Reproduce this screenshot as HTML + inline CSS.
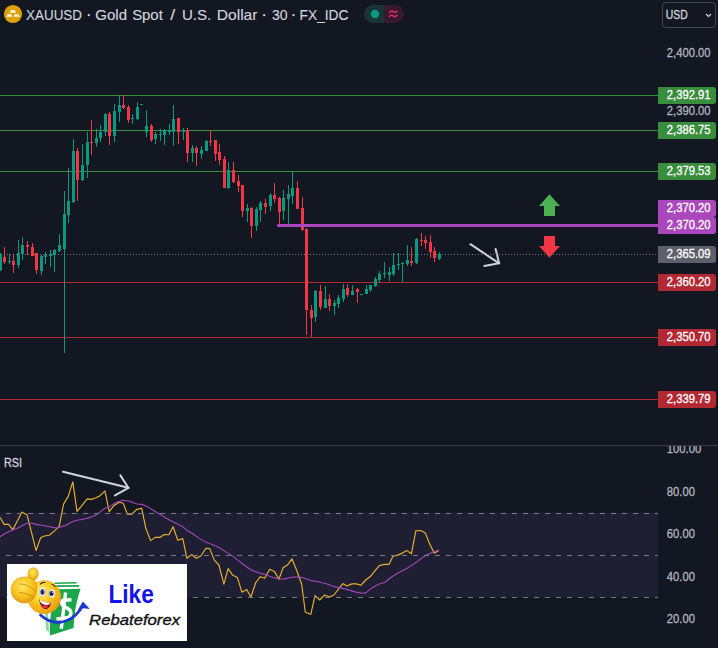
<!DOCTYPE html>
<html><head><meta charset="utf-8"><style>
*{margin:0;padding:0;box-sizing:border-box}
html,body{width:718px;height:648px;overflow:hidden;background:#131722;font-family:"Liberation Sans",sans-serif}
#c{position:absolute;left:0;top:0}
</style></head><body>
<svg id="c" width="718" height="648" viewBox="0 0 718 648">
<line x1="0" y1="254.5" x2="658" y2="254.5" stroke="#787b86" stroke-width="1" stroke-dasharray="1 2" stroke-dashoffset="-1"/>
<line x1="0" y1="95.5" x2="658" y2="95.5" stroke="#388e3c" stroke-width="1"/>
<line x1="0" y1="130.5" x2="658" y2="130.5" stroke="#388e3c" stroke-width="1"/>
<line x1="0" y1="171.5" x2="658" y2="171.5" stroke="#388e3c" stroke-width="1"/>
<line x1="0" y1="282.5" x2="658" y2="282.5" stroke="#b22833" stroke-width="1"/>
<line x1="0" y1="337.5" x2="658" y2="337.5" stroke="#b22833" stroke-width="1"/>
<line x1="0" y1="399.5" x2="658" y2="399.5" stroke="#b22833" stroke-width="1"/>
<rect x="0" y="253" width="1" height="18" fill="#089981"/>
<rect x="-1" y="254" width="3" height="16" fill="#089981"/>
<rect x="4" y="247" width="1" height="17" fill="#f23645"/>
<rect x="3" y="257" width="3" height="5" fill="#f23645"/>
<rect x="9" y="254" width="1" height="10" fill="#089981"/>
<rect x="8" y="261" width="3" height="1" fill="#089981"/>
<rect x="13" y="255" width="1" height="18" fill="#f23645"/>
<rect x="12" y="261" width="3" height="4" fill="#f23645"/>
<rect x="18" y="240" width="1" height="28" fill="#089981"/>
<rect x="17" y="253" width="3" height="12" fill="#089981"/>
<rect x="22" y="237" width="1" height="23" fill="#089981"/>
<rect x="21" y="245" width="3" height="9" fill="#089981"/>
<rect x="27" y="241" width="1" height="14" fill="#f23645"/>
<rect x="26" y="245" width="3" height="2" fill="#f23645"/>
<rect x="32" y="243" width="1" height="13" fill="#f23645"/>
<rect x="31" y="247" width="3" height="9" fill="#f23645"/>
<rect x="36" y="253" width="1" height="21" fill="#f23645"/>
<rect x="35" y="253" width="3" height="17" fill="#f23645"/>
<rect x="41" y="255" width="1" height="20" fill="#089981"/>
<rect x="40" y="256" width="3" height="15" fill="#089981"/>
<rect x="45" y="252" width="1" height="12" fill="#089981"/>
<rect x="44" y="255" width="3" height="2" fill="#089981"/>
<rect x="50" y="250" width="1" height="17" fill="#089981"/>
<rect x="49" y="254" width="3" height="2" fill="#089981"/>
<rect x="54" y="249" width="1" height="23" fill="#089981"/>
<rect x="53" y="250" width="3" height="5" fill="#089981"/>
<rect x="59" y="234" width="1" height="18" fill="#089981"/>
<rect x="58" y="245" width="3" height="6" fill="#089981"/>
<rect x="64" y="191" width="1" height="162" fill="#089981"/>
<rect x="63" y="214" width="3" height="35" fill="#089981"/>
<rect x="68" y="168" width="1" height="55" fill="#089981"/>
<rect x="67" y="201" width="3" height="14" fill="#089981"/>
<rect x="73" y="139" width="1" height="64" fill="#089981"/>
<rect x="72" y="151" width="3" height="51" fill="#089981"/>
<rect x="77" y="148" width="1" height="53" fill="#f23645"/>
<rect x="76" y="151" width="3" height="29" fill="#f23645"/>
<rect x="82" y="144" width="1" height="37" fill="#089981"/>
<rect x="81" y="165" width="3" height="15" fill="#089981"/>
<rect x="87" y="132" width="1" height="46" fill="#089981"/>
<rect x="86" y="142" width="3" height="23" fill="#089981"/>
<rect x="91" y="120" width="1" height="35" fill="#f23645"/>
<rect x="90" y="142" width="3" height="1" fill="#f23645"/>
<rect x="96" y="129" width="1" height="18" fill="#089981"/>
<rect x="95" y="138" width="3" height="5" fill="#089981"/>
<rect x="100" y="125" width="1" height="17" fill="#089981"/>
<rect x="99" y="132" width="3" height="6" fill="#089981"/>
<rect x="105" y="113" width="1" height="23" fill="#089981"/>
<rect x="104" y="114" width="3" height="18" fill="#089981"/>
<rect x="109" y="112" width="1" height="33" fill="#f23645"/>
<rect x="108" y="114" width="3" height="22" fill="#f23645"/>
<rect x="114" y="104" width="1" height="38" fill="#089981"/>
<rect x="113" y="111" width="3" height="25" fill="#089981"/>
<rect x="119" y="96" width="1" height="26" fill="#089981"/>
<rect x="118" y="105" width="3" height="7" fill="#089981"/>
<rect x="123" y="95" width="1" height="14" fill="#f23645"/>
<rect x="122" y="105" width="3" height="3" fill="#f23645"/>
<rect x="128" y="105" width="1" height="18" fill="#f23645"/>
<rect x="127" y="107" width="3" height="13" fill="#f23645"/>
<rect x="132" y="114" width="1" height="10" fill="#089981"/>
<rect x="131" y="118" width="3" height="1" fill="#089981"/>
<rect x="137" y="102" width="1" height="18" fill="#089981"/>
<rect x="136" y="107" width="3" height="12" fill="#089981"/>
<rect x="141" y="104" width="1" height="1" fill="#089981"/>
<rect x="140" y="104" width="3" height="1" fill="#089981"/>
<rect x="146" y="110" width="1" height="27" fill="#089981"/>
<rect x="145" y="126" width="3" height="6" fill="#089981"/>
<rect x="151" y="124" width="1" height="18" fill="#f23645"/>
<rect x="150" y="126" width="3" height="14" fill="#f23645"/>
<rect x="155" y="132" width="1" height="12" fill="#089981"/>
<rect x="154" y="134" width="3" height="5" fill="#089981"/>
<rect x="160" y="129" width="1" height="12" fill="#089981"/>
<rect x="159" y="134" width="3" height="1" fill="#089981"/>
<rect x="164" y="129" width="1" height="16" fill="#089981"/>
<rect x="163" y="130" width="3" height="5" fill="#089981"/>
<rect x="169" y="124" width="1" height="11" fill="#089981"/>
<rect x="168" y="130" width="3" height="2" fill="#089981"/>
<rect x="173" y="105" width="1" height="41" fill="#089981"/>
<rect x="172" y="119" width="3" height="13" fill="#089981"/>
<rect x="178" y="118" width="1" height="26" fill="#f23645"/>
<rect x="177" y="118" width="3" height="14" fill="#f23645"/>
<rect x="183" y="128" width="1" height="12" fill="#089981"/>
<rect x="182" y="130" width="3" height="2" fill="#089981"/>
<rect x="187" y="128" width="1" height="34" fill="#f23645"/>
<rect x="186" y="130" width="3" height="23" fill="#f23645"/>
<rect x="192" y="145" width="1" height="17" fill="#089981"/>
<rect x="191" y="148" width="3" height="5" fill="#089981"/>
<rect x="196" y="146" width="1" height="20" fill="#f23645"/>
<rect x="195" y="148" width="3" height="5" fill="#f23645"/>
<rect x="201" y="146" width="1" height="13" fill="#089981"/>
<rect x="200" y="150" width="3" height="4" fill="#089981"/>
<rect x="206" y="140" width="1" height="11" fill="#089981"/>
<rect x="205" y="141" width="3" height="10" fill="#089981"/>
<rect x="210" y="130" width="1" height="16" fill="#f23645"/>
<rect x="209" y="141" width="3" height="1" fill="#f23645"/>
<rect x="215" y="140" width="1" height="21" fill="#f23645"/>
<rect x="214" y="140" width="3" height="14" fill="#f23645"/>
<rect x="219" y="144" width="1" height="21" fill="#f23645"/>
<rect x="218" y="152" width="3" height="8" fill="#f23645"/>
<rect x="224" y="156" width="1" height="32" fill="#f23645"/>
<rect x="223" y="159" width="3" height="29" fill="#f23645"/>
<rect x="228" y="162" width="1" height="27" fill="#089981"/>
<rect x="227" y="170" width="3" height="18" fill="#089981"/>
<rect x="233" y="162" width="1" height="21" fill="#f23645"/>
<rect x="232" y="170" width="3" height="12" fill="#f23645"/>
<rect x="238" y="175" width="1" height="17" fill="#f23645"/>
<rect x="237" y="181" width="3" height="5" fill="#f23645"/>
<rect x="242" y="185" width="1" height="32" fill="#f23645"/>
<rect x="241" y="185" width="3" height="26" fill="#f23645"/>
<rect x="247" y="204" width="1" height="18" fill="#089981"/>
<rect x="246" y="208" width="3" height="3" fill="#089981"/>
<rect x="251" y="207" width="1" height="31" fill="#f23645"/>
<rect x="250" y="208" width="3" height="18" fill="#f23645"/>
<rect x="256" y="207" width="1" height="24" fill="#089981"/>
<rect x="255" y="209" width="3" height="17" fill="#089981"/>
<rect x="260" y="201" width="1" height="21" fill="#089981"/>
<rect x="259" y="203" width="3" height="7" fill="#089981"/>
<rect x="265" y="199" width="1" height="15" fill="#f23645"/>
<rect x="264" y="203" width="3" height="4" fill="#f23645"/>
<rect x="270" y="193" width="1" height="18" fill="#089981"/>
<rect x="269" y="195" width="3" height="11" fill="#089981"/>
<rect x="274" y="183" width="1" height="20" fill="#f23645"/>
<rect x="273" y="195" width="3" height="4" fill="#f23645"/>
<rect x="279" y="197" width="1" height="27" fill="#f23645"/>
<rect x="278" y="198" width="3" height="14" fill="#f23645"/>
<rect x="283" y="190" width="1" height="30" fill="#089981"/>
<rect x="282" y="198" width="3" height="13" fill="#089981"/>
<rect x="288" y="185" width="1" height="40" fill="#089981"/>
<rect x="287" y="194" width="3" height="5" fill="#089981"/>
<rect x="292" y="171" width="1" height="33" fill="#089981"/>
<rect x="291" y="188" width="3" height="8" fill="#089981"/>
<rect x="297" y="181" width="1" height="28" fill="#f23645"/>
<rect x="296" y="188" width="3" height="21" fill="#f23645"/>
<rect x="302" y="197" width="1" height="34" fill="#f23645"/>
<rect x="301" y="208" width="3" height="22" fill="#f23645"/>
<rect x="306" y="228" width="1" height="107" fill="#f23645"/>
<rect x="305" y="229" width="3" height="81" fill="#f23645"/>
<rect x="311" y="305" width="1" height="32" fill="#f23645"/>
<rect x="310" y="310" width="3" height="8" fill="#f23645"/>
<rect x="315" y="290" width="1" height="32" fill="#089981"/>
<rect x="314" y="291" width="3" height="26" fill="#089981"/>
<rect x="320" y="285" width="1" height="25" fill="#f23645"/>
<rect x="319" y="291" width="3" height="16" fill="#f23645"/>
<rect x="325" y="286" width="1" height="22" fill="#089981"/>
<rect x="324" y="299" width="3" height="9" fill="#089981"/>
<rect x="329" y="294" width="1" height="17" fill="#f23645"/>
<rect x="328" y="299" width="3" height="7" fill="#f23645"/>
<rect x="334" y="300" width="1" height="15" fill="#089981"/>
<rect x="333" y="303" width="3" height="3" fill="#089981"/>
<rect x="338" y="295" width="1" height="13" fill="#089981"/>
<rect x="337" y="298" width="3" height="6" fill="#089981"/>
<rect x="343" y="284" width="1" height="18" fill="#089981"/>
<rect x="342" y="289" width="3" height="10" fill="#089981"/>
<rect x="347" y="284" width="1" height="13" fill="#f23645"/>
<rect x="346" y="288" width="3" height="7" fill="#f23645"/>
<rect x="352" y="285" width="1" height="10" fill="#089981"/>
<rect x="351" y="291" width="3" height="4" fill="#089981"/>
<rect x="357" y="288" width="1" height="15" fill="#f23645"/>
<rect x="356" y="289" width="3" height="3" fill="#f23645"/>
<rect x="361" y="294" width="1" height="1" fill="#089981"/>
<rect x="360" y="294" width="3" height="1" fill="#089981"/>
<rect x="366" y="285" width="1" height="9" fill="#089981"/>
<rect x="365" y="289" width="3" height="5" fill="#089981"/>
<rect x="370" y="285" width="1" height="7" fill="#089981"/>
<rect x="369" y="285" width="3" height="5" fill="#089981"/>
<rect x="375" y="277" width="1" height="10" fill="#089981"/>
<rect x="374" y="279" width="3" height="7" fill="#089981"/>
<rect x="379" y="271" width="1" height="11" fill="#089981"/>
<rect x="378" y="274" width="3" height="6" fill="#089981"/>
<rect x="384" y="262" width="1" height="16" fill="#089981"/>
<rect x="383" y="273" width="3" height="1" fill="#089981"/>
<rect x="389" y="267" width="1" height="14" fill="#089981"/>
<rect x="388" y="272" width="3" height="3" fill="#089981"/>
<rect x="393" y="253" width="1" height="23" fill="#089981"/>
<rect x="392" y="265" width="3" height="9" fill="#089981"/>
<rect x="398" y="253" width="1" height="17" fill="#089981"/>
<rect x="397" y="264" width="3" height="1" fill="#089981"/>
<rect x="402" y="262" width="1" height="20" fill="#089981"/>
<rect x="401" y="263" width="3" height="1" fill="#089981"/>
<rect x="407" y="245" width="1" height="21" fill="#089981"/>
<rect x="406" y="260" width="3" height="4" fill="#089981"/>
<rect x="411" y="247" width="1" height="19" fill="#f23645"/>
<rect x="410" y="261" width="3" height="2" fill="#f23645"/>
<rect x="416" y="238" width="1" height="26" fill="#089981"/>
<rect x="415" y="239" width="3" height="24" fill="#089981"/>
<rect x="421" y="233" width="1" height="13" fill="#f23645"/>
<rect x="420" y="240" width="3" height="1" fill="#f23645"/>
<rect x="425" y="236" width="1" height="13" fill="#f23645"/>
<rect x="424" y="240" width="3" height="3" fill="#f23645"/>
<rect x="430" y="235" width="1" height="23" fill="#f23645"/>
<rect x="429" y="242" width="3" height="10" fill="#f23645"/>
<rect x="434" y="247" width="1" height="15" fill="#f23645"/>
<rect x="433" y="251" width="3" height="7" fill="#f23645"/>
<rect x="439" y="252" width="1" height="8" fill="#089981"/>
<rect x="438" y="254" width="3" height="5" fill="#089981"/>
<line x1="278.5" y1="225.5" x2="658" y2="225.5" stroke="#ab47bc" stroke-width="3" stroke-linecap="round"/>
<polygon points="549.4,194.2 560,205.9 555,205.9 555,216 544,216 544,205.9 539,205.9" fill="#4caf50"/>
<polygon points="544,236 555,236 555,246 560,246 549.4,257.7 539,246 544,246" fill="#f23645"/>
<g stroke="#d1d4dc" stroke-width="2" stroke-linecap="round" fill="none"><line x1="470.4" y1="244.2" x2="499.1" y2="263.3"/><polyline points="495.6,248.9 499.1,263.3 484.3,266.1"/></g>
<line x1="465" y1="254.5" x2="658" y2="254.5" stroke="#787b86" stroke-width="1" stroke-dasharray="1 2" stroke-dashoffset="-1"/>
<rect x="0" y="445" width="718" height="1" fill="#363a45"/>
<rect x="0" y="512.5" width="658" height="85" fill="#1e1f33"/>
<polyline points="0.0,517.2 4.1,524.4 8.6,524.4 12.8,529.7 21.9,512.1 27.1,515.1 36.1,550.6 40.6,537.8 44.4,536.0 49.3,535.3 54.2,531.1 59.2,526.3 63.6,504.0 68.2,496.4 72.8,481.8 77.0,511.4 82.1,505.4 87.2,498.9 91.4,499.4 96.0,497.8 100.1,495.7 105.0,490.8 109.2,511.7 114.0,505.4 119.4,502.2 123.2,503.3 127.4,514.2 131.9,514.2 136.4,509.6 141.7,508.2 145.8,528.3 150.6,540.6 155.1,537.4 159.7,537.4 164.2,534.6 168.9,534.7 173.1,526.8 177.8,540.3 182.8,538.6 186.9,558.3 191.7,554.6 196.3,558.3 200.8,556.0 206.0,548.3 209.7,548.6 214.3,560.1 218.9,565.0 223.9,584.2 228.1,568.6 232.8,575.3 237.4,577.6 241.9,592.2 246.7,589.4 250.8,597.1 255.8,582.5 260.3,576.7 264.7,578.3 269.7,569.3 274.4,571.4 278.9,579.2 283.1,567.8 287.8,564.7 292.0,558.8 297.0,571.2 301.7,584.2 305.3,612.2 310.8,614.3 315.0,595.6 319.7,600.0 324.7,594.9 329.4,597.0 333.9,595.0 338.3,589.4 342.8,583.6 346.9,586.0 351.9,583.9 356.4,583.9 360.8,585.3 365.8,580.0 370.6,576.3 374.7,571.1 379.3,565.6 384.2,564.4 388.9,564.4 393.1,556.1 397.8,555.1 402.4,553.1 406.9,550.6 411.4,553.8 415.8,530.8 420.8,530.6 425.3,532.9 429.7,544.0 434.3,553.3 438.9,550.3" fill="none" stroke="#eab22a" stroke-width="1.15" stroke-linejoin="round"/>
<polyline points="0.0,536.7 5.6,533.2 12.5,530.0 18.0,528.0 22.9,525.3 27.0,523.2 32.0,523.2 36.1,524.4 41.7,525.3 47.2,526.3 52.8,527.4 57.0,528.0 60.6,527.0 66.8,524.9 71.7,522.1 77.2,520.3 82.8,519.3 89.7,517.6 96.0,515.1 100.8,511.4 105.0,508.2 109.9,506.4 116.3,502.2 123.2,500.3 129.4,501.3 137.1,504.0 142.6,504.4 147.5,506.8 154.4,511.0 161.4,515.1 165.0,517.5 169.9,520.3 176.1,523.3 182.4,526.4 187.2,530.6 192.8,533.8 198.3,537.9 205.3,542.1 212.2,544.4 217.8,546.9 220.0,548.1 226.9,552.6 233.2,556.4 239.4,561.4 245.0,565.8 251.3,570.0 257.5,572.5 264.4,574.4 272.8,577.2 279.0,579.0 284.7,578.9 291.7,577.2 297.9,576.8 302.8,577.8 311.1,580.6 319.4,582.0 327.8,584.2 335.0,586.9 338.3,587.4 346.7,589.4 355.0,591.9 361.3,593.3 365.8,592.9 371.7,588.1 378.6,584.2 385.0,582.2 391.9,576.7 398.9,572.5 405.8,569.0 411.4,565.6 418.3,560.7 425.3,555.6 432.2,552.4 438.9,550.0" fill="none" stroke="#a548bb" stroke-width="1.1" stroke-linejoin="round"/>
<line x1="0" y1="513.5" x2="658" y2="513.5" stroke="#787b86" stroke-width="1" stroke-dasharray="5 6" stroke-dashoffset="-6"/>
<line x1="0" y1="555.5" x2="658" y2="555.5" stroke="#787b86" stroke-width="1" stroke-dasharray="5 6" stroke-dashoffset="-6"/>
<line x1="0" y1="597.5" x2="658" y2="597.5" stroke="#787b86" stroke-width="1" stroke-dasharray="5 6" stroke-dashoffset="-6"/>
<g stroke="#d1d4dc" stroke-width="2" stroke-linecap="round" fill="none"><line x1="63" y1="471.8" x2="128.4" y2="487.8"/><polyline points="120.4,475.4 128.4,487.8 115,495.4"/></g>
<text transform="translate(26.10,19.8) scale(0.893,1)" font-family="Liberation Sans" font-size="15" fill="#d1d4dc" stroke="#d1d4dc" stroke-width="0.15">XAUUSD</text>
<text transform="translate(95.30,19.8) scale(1.002,1)" font-family="Liberation Sans" font-size="15" fill="#d1d4dc" stroke="#d1d4dc" stroke-width="0.15">Gold</text>
<text transform="translate(132.20,19.8) scale(0.991,1)" font-family="Liberation Sans" font-size="15" fill="#d1d4dc" stroke="#d1d4dc" stroke-width="0.15">Spot</text>
<text transform="translate(170.20,19.8) scale(1.180,1)" font-family="Liberation Sans" font-size="15" fill="#d1d4dc" stroke="#d1d4dc" stroke-width="0.15">/</text>
<text transform="translate(182.00,19.8) scale(1.004,1)" font-family="Liberation Sans" font-size="15" fill="#d1d4dc" stroke="#d1d4dc" stroke-width="0.15">U.S.</text>
<text transform="translate(216.76,19.8) scale(1.040,1)" font-family="Liberation Sans" font-size="15" fill="#d1d4dc" stroke="#d1d4dc" stroke-width="0.15">Dollar</text>
<text transform="translate(272.00,19.8) scale(0.936,1)" font-family="Liberation Sans" font-size="15" fill="#d1d4dc" stroke="#d1d4dc" stroke-width="0.15">30</text>
<text transform="translate(299.58,19.8) scale(0.918,1)" font-family="Liberation Sans" font-size="15" fill="#d1d4dc" stroke="#d1d4dc" stroke-width="0.15">FX_IDC</text>
<circle cx="88.80" cy="15.2" r="1.15" fill="#d1d4dc"/>
<circle cx="264.20" cy="15.2" r="1.15" fill="#d1d4dc"/>
<circle cx="293.50" cy="15.2" r="1.15" fill="#d1d4dc"/>
<circle cx="13" cy="14" r="9.1" fill="#e0a100"/>
<polygon points="10.8,10.2 14.8,10.2 16,12.8 10,12.8" fill="#fff"/>
<polygon points="7.8,14.2 11,14.2 12.2,16.8 6.2,16.8" fill="#fff"/>
<polygon points="14.8,14.2 18,14.2 19.9,16.8 13.8,16.8" fill="#fff"/>
<path d="M373,5 H384 V23 H373 A9,9 0 0 1 373,5 Z" fill="#1a3433"/>
<path d="M384,5 H395 A9,9 0 0 1 395,23 H384 Z" fill="#351a2d"/>
<circle cx="375" cy="14" r="4.2" fill="#089981"/>
<g fill="none" stroke="#ee2a66" stroke-width="1.5" stroke-linecap="round"><path d="M389.5,12.3 C391,10.5 392.3,10.8 393.2,11.6 C394.2,12.4 395.5,12.8 396.8,11"/><path d="M389.5,16.5 C391,14.7 392.3,15 393.2,15.8 C394.2,16.6 395.5,17 396.8,15.2"/></g>

<rect x="7" y="564" width="180" height="77" fill="#ffffff"/>
<defs>
<radialGradient id="gf" cx="0.38" cy="0.32" r="0.75">
<stop offset="0" stop-color="#fff07a"/><stop offset="0.5" stop-color="#fcc81e"/><stop offset="1" stop-color="#e8960c"/>
</radialGradient>
<radialGradient id="gh" cx="0.45" cy="0.35" r="0.7">
<stop offset="0" stop-color="#ffe860"/><stop offset="0.6" stop-color="#f8c01a"/><stop offset="1" stop-color="#e0920c"/>
</radialGradient>
</defs>
<!-- bills -->
<g fill="#1aa64a">
<path d="M54.5,582.4 L76.5,582.0 L76.6,583.6 L54.8,584.0 Z"/>
<path d="M55.5,585.3 L79.2,585.0 L79.2,586.8 L55.6,587.0 Z"/>
<path d="M58.8,589.3 L80.6,588.8 C78.5,595 76,604 75,612.4 C74.2,618 73.8,623 73.6,628.1 L50,635.6 C49,620 52,600 58.8,589.3 Z"/>
</g>
<g fill="#8fd6a4"><path d="M45,612 L48,611 L49,632 L46,630 Z"/></g>
<!-- dollar sign -->
<g fill="none" stroke="#ffffff" stroke-width="3.4" stroke-linecap="butt" stroke-linejoin="round">
<path d="M71.5,599.8 L63.5,600.2 C61,600.5 60.8,604 63,605.5 L68.5,609 C72.5,611.5 71,617 67,617.8 L56.5,619"/>
<line x1="65.6" y1="592.5" x2="61.3" y2="628.8"/>
</g>
<!-- blue arrow -->
<path d="M40.5,615 C46,620 53,623 60,622.3 C68,621.5 75,617 80.5,609.5" fill="none" stroke="#1c36d2" stroke-width="2.8" stroke-linecap="round"/>
<path d="M82.9,601.6 L89.8,609 L84,608.2 L77.8,610 Z" fill="#1c36d2"/>
<!-- face -->
<circle cx="44.2" cy="597.2" r="16.6" fill="url(#gf)" stroke="#e59a1a" stroke-width="0.5"/>
<!-- eyes -->
<ellipse cx="42.6" cy="591.8" rx="3.2" ry="5" fill="#ffffff" stroke="#d9a030" stroke-width="0.4"/>
<ellipse cx="52" cy="593.6" rx="3.2" ry="4.3" fill="#ffffff" stroke="#d9a030" stroke-width="0.4"/>
<ellipse cx="42.5" cy="591.9" rx="2.2" ry="3" fill="#2d4fb0"/>
<ellipse cx="51.5" cy="593.5" rx="2.2" ry="2.8" fill="#2d4fb0"/>
<ellipse cx="42.4" cy="592.1" rx="1" ry="1.5" fill="#0a0a20"/>
<ellipse cx="51.5" cy="593.7" rx="1" ry="1.4" fill="#0a0a20"/>
<circle cx="43.3" cy="590.8" r="0.5" fill="#fff"/>
<circle cx="52.3" cy="592.4" r="0.5" fill="#fff"/>
<!-- brows -->
<path d="M40,584.3 Q42.5,581.6 45.3,582.6" fill="none" stroke="#3a2408" stroke-width="1.1"/>
<path d="M51.7,584.3 Q54,584.6 55.3,587" fill="none" stroke="#3a2408" stroke-width="1.1"/>
<!-- mouth -->
<path d="M39.1,599.4 Q45,602.8 51.2,602.4 Q50,608.8 45.2,609.2 Q40.5,608 39.1,599.4 Z" fill="#7a0c18"/>
<path d="M39.6,599.8 Q45,603 51,602.6 Q50.5,604.6 47.5,605 Q42.5,605 40.3,602 Z" fill="#ffffff"/>
<path d="M41.3,606 Q44.5,604.6 48.3,606 Q46.8,609 44.6,608.8 Q42.3,608.2 41.3,606 Z" fill="#e0303e"/>
<path d="M53.5,601 Q55.2,601.5 56.3,600.5" fill="none" stroke="#d88a20" stroke-width="0.6"/>
<!-- hand -->
<ellipse cx="33.1" cy="574" rx="5.2" ry="6.3" fill="url(#gh)" stroke="#d08a10" stroke-width="0.4" transform="rotate(8 33.1 574)"/>
<path d="M13,583 C16,577.5 24,576 30,577.5 C35,579 37.5,584 36.8,590.5 C36,597 32,602.5 25,603 C17.5,603.3 11.2,597.5 11.2,590.5 C11.2,587.5 11.8,585 13,583 Z" fill="url(#gh)" stroke="#d08a10" stroke-width="0.5"/>
<g fill="none" stroke="#b27408" stroke-width="0.7" opacity="0.9">
<path d="M19.7,584 C25,584 31,586.5 35.2,591.2"/>
<path d="M19,592.5 C24.5,592.5 30,594.5 33.9,597.7"/>
</g>
<!-- text -->
<text transform="translate(108.4,603) scale(0.908,1)" font-family="Liberation Sans" font-weight="bold" font-size="25" fill="#1212ee">Like</text>
<text transform="translate(89.1,624.8) scale(1.114,1)" font-family="Liberation Sans" font-style="italic" font-size="15" fill="#111111" stroke="#111111" stroke-width="0.35">Rebateforex</text>

<text transform="translate(666.8,57) scale(0.9,1)" font-family="Liberation Sans" font-size="12.5" fill="#b2b5be" stroke="#b2b5be" stroke-width="0.3" >2,400.00</text>
<text transform="translate(666.8,115.2) scale(0.9,1)" font-family="Liberation Sans" font-size="12.5" fill="#b2b5be" stroke="#b2b5be" stroke-width="0.3" >2,390.00</text>
<path d="M658,87.0 H713 A3,3 0 0 1 716,90.0 V101.0 A3,3 0 0 1 713,104.0 H658 Z" fill="#388e3c"/>
<text transform="translate(666.8,98.7) scale(0.9,1)" font-family="Liberation Sans" font-size="12.5" fill="#ffffff" stroke="#ffffff" stroke-width="0.3" >2,392.91</text>
<path d="M658,122.0 H713 A3,3 0 0 1 716,125.0 V136.0 A3,3 0 0 1 713,139.0 H658 Z" fill="#388e3c"/>
<text transform="translate(666.8,133.7) scale(0.9,1)" font-family="Liberation Sans" font-size="12.5" fill="#ffffff" stroke="#ffffff" stroke-width="0.3" >2,386.75</text>
<path d="M658,163.0 H713 A3,3 0 0 1 716,166.0 V177.0 A3,3 0 0 1 713,180.0 H658 Z" fill="#388e3c"/>
<text transform="translate(666.8,174.7) scale(0.9,1)" font-family="Liberation Sans" font-size="12.5" fill="#ffffff" stroke="#ffffff" stroke-width="0.3" >2,379.53</text>
<path d="M658,200.0 H713 A3,3 0 0 1 716,203.0 V214.0 A3,3 0 0 1 713,217.0 H658 Z" fill="#ab47bc"/>
<text transform="translate(666.8,211.7) scale(0.9,1)" font-family="Liberation Sans" font-size="12.5" fill="#ffffff" stroke="#ffffff" stroke-width="0.3" >2,370.20</text>
<path d="M658,217.0 H713 A3,3 0 0 1 716,220.0 V231.0 A3,3 0 0 1 713,234.0 H658 Z" fill="#ab47bc"/>
<text transform="translate(666.8,228.7) scale(0.9,1)" font-family="Liberation Sans" font-size="12.5" fill="#ffffff" stroke="#ffffff" stroke-width="0.3" >2,370.20</text>
<path d="M658,246.0 H713 A3,3 0 0 1 716,249.0 V260.0 A3,3 0 0 1 713,263.0 H658 Z" fill="#5d606b"/>
<text transform="translate(666.8,257.7) scale(0.9,1)" font-family="Liberation Sans" font-size="12.5" fill="#ffffff" stroke="#ffffff" stroke-width="0.3" >2,365.09</text>
<path d="M658,274.0 H713 A3,3 0 0 1 716,277.0 V288.0 A3,3 0 0 1 713,291.0 H658 Z" fill="#b22833"/>
<text transform="translate(666.8,285.7) scale(0.9,1)" font-family="Liberation Sans" font-size="12.5" fill="#ffffff" stroke="#ffffff" stroke-width="0.3" >2,360.20</text>
<path d="M658,329.0 H713 A3,3 0 0 1 716,332.0 V343.0 A3,3 0 0 1 713,346.0 H658 Z" fill="#b22833"/>
<text transform="translate(666.8,340.7) scale(0.9,1)" font-family="Liberation Sans" font-size="12.5" fill="#ffffff" stroke="#ffffff" stroke-width="0.3" >2,350.70</text>
<path d="M658,391.0 H713 A3,3 0 0 1 716,394.0 V405.0 A3,3 0 0 1 713,408.0 H658 Z" fill="#b22833"/>
<text transform="translate(666.8,402.7) scale(0.9,1)" font-family="Liberation Sans" font-size="12.5" fill="#ffffff" stroke="#ffffff" stroke-width="0.3" >2,339.79</text>
<clipPath id="rc"><rect x="0" y="446" width="718" height="202"/></clipPath><g clip-path="url(#rc)">
<text transform="translate(666.8,452.9) scale(0.9,1)" font-family="Liberation Sans" font-size="12.5" fill="#b2b5be" stroke="#b2b5be" stroke-width="0.3" >100.00</text>
<text transform="translate(666.8,496.1) scale(0.9,1)" font-family="Liberation Sans" font-size="12.5" fill="#b2b5be" stroke="#b2b5be" stroke-width="0.3" >80.00</text>
<text transform="translate(666.8,537.8) scale(0.9,1)" font-family="Liberation Sans" font-size="12.5" fill="#b2b5be" stroke="#b2b5be" stroke-width="0.3" >60.00</text>
<text transform="translate(666.8,581) scale(0.9,1)" font-family="Liberation Sans" font-size="12.5" fill="#b2b5be" stroke="#b2b5be" stroke-width="0.3" >40.00</text>
<text transform="translate(666.8,622.9) scale(0.9,1)" font-family="Liberation Sans" font-size="12.5" fill="#b2b5be" stroke="#b2b5be" stroke-width="0.3" >20.00</text>
</g>
<text transform="translate(4,466.8) scale(0.88,1)" font-family="Liberation Sans" font-size="12.3" fill="#d1d4dc" stroke="#d1d4dc" stroke-width="0.3" >RSI</text>
<rect x="662.5" y="2.5" width="53" height="25" rx="3.5" fill="none" stroke="#434651" stroke-width="1"/>
<text transform="translate(665.8,19.1) scale(0.84,1)" font-family="Liberation Sans" font-size="12.4" fill="#d1d4dc" stroke="#d1d4dc" stroke-width="0.3" >USD</text>
<path d="M706,14 L708.5,16.5 L711,14" stroke="#d1d4dc" stroke-width="1.1" fill="none"/>
</svg>

</body></html>
